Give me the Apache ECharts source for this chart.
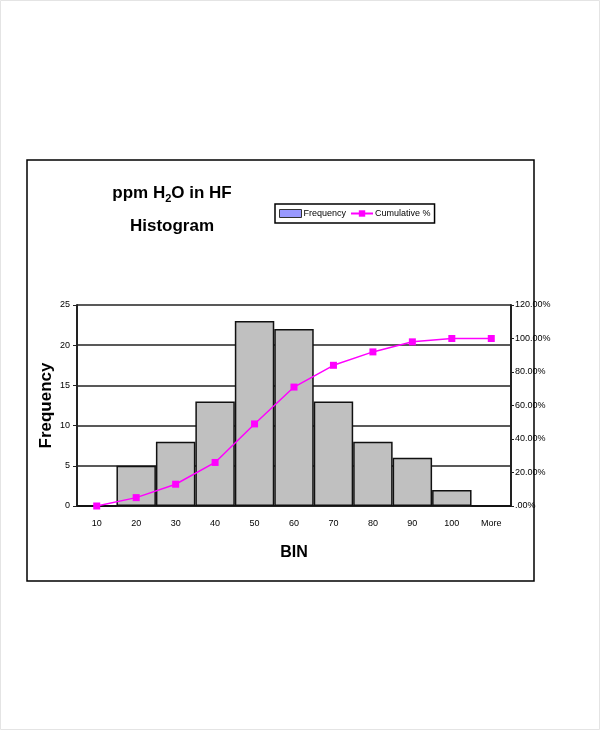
<!DOCTYPE html>
<html>
<head>
<meta charset="utf-8">
<script src="https://cdn.jsdelivr.net/npm/echarts@6/dist/echarts.min.js"></script>
<style>
  html, body { margin: 0; padding: 0; background: #fff; }
  #main { width: 600px; height: 730px; }
</style>
</head>
<body>
<div id="main"></div>
<script>
// bins and values
var bins = ['10', '20', '30', '40', '50', '60', '70', '80', '90', '100', 'More'];
var frequency = [0, 5, 8, 13, 23, 22, 13, 8, 6, 2, 0];
var cumulative = [0, 5, 13, 26, 49, 71, 84, 92, 98, 100, 100];

var font = '"Liberation Sans Narrow", "Liberation Sans", Arial, sans-serif';

var chart = echarts.init(document.getElementById('main'));
var option = {
  backgroundColor: '#fff',
  animation: false,
  textStyle: { fontFamily: font },
  graphic: [
    {
      type: 'rect',
      shape: { x: 0.5, y: 0.5, width: 599, height: 729 },
      style: { fill: 'none', stroke: '#e4e4e4', lineWidth: 1 },
      silent: true
    },
    {
      type: 'rect',
      shape: { x: 27, y: 160, width: 507, height: 421 },
      style: { fill: 'none', stroke: '#000', lineWidth: 1.5 },
      silent: true
    }
  ],
  title: {
    text: '{a|ppm H}{s|2}{a|O in HF}',
    subtext: 'Histogram',
    left: 172,
    top: 182,
    padding: 0,
    itemGap: 14,
    textAlign: 'center',
    textStyle: {
      rich: {
        a: { fontFamily: font, fontSize: 17, fontWeight: 'bold', color: '#000', lineHeight: 22 },
        s: { fontFamily: font, fontSize: 11, fontWeight: 'bold', color: '#000', lineHeight: 12, verticalAlign: 'bottom' }
      }
    },
    subtextStyle: { fontFamily: font, fontSize: 17, fontWeight: 'bold', color: '#000', lineHeight: 22 }
  },
  legend: {
    left: 275,
    top: 204,
    padding: [5, 4, 5, 4],
    itemGap: 4,
    itemWidth: 22,
    itemHeight: 8,
    borderColor: '#000',
    borderWidth: 1.5,
    backgroundColor: '#fff',
    textStyle: { fontFamily: font, fontSize: 9, color: '#000', padding: [0, 0, 0, -3] },
    data: [
      { name: 'Frequency', icon: 'rect', itemStyle: { color: '#9999ff', borderColor: '#333', borderWidth: 1 } },
      { name: 'Cumulative %' }
    ]
  },
  grid: { left: 77, right: 89, top: 305, bottom: 224 },
  xAxis: {
    type: 'category',
    data: bins,
    name: 'BIN',
    nameLocation: 'middle',
    nameGap: 39,
    nameTextStyle: { fontFamily: font, fontSize: 16, fontWeight: 'bold', color: '#000' },
    axisLine: { lineStyle: { color: '#222', width: 2 } },
    axisTick: { length: 4, lineStyle: { color: '#222', width: 1.5 } },
    axisLabel: { fontSize: 9, color: '#000', margin: 13 }
  },
  yAxis: [
    {
      type: 'value',
      min: 0, max: 25, interval: 5,
      name: 'Frequency',
      nameLocation: 'middle',
      nameGap: 22,
      nameMoveOverlap: false,
      nameTextStyle: { fontFamily: font, fontSize: 17, fontWeight: 'bold', color: '#000' },
      axisLine: { show: true, lineStyle: { color: '#222', width: 2 } },
      axisTick: { show: true, length: 4, lineStyle: { color: '#222' } },
      axisLabel: { fontSize: 9, color: '#000', margin: 7 },
      splitLine: { show: true, lineStyle: { color: '#222', width: 1.5 } }
    },
    {
      type: 'value',
      min: 0, max: 120, interval: 20,
      position: 'right',
      axisLine: { show: true, lineStyle: { color: '#222', width: 2 } },
      axisTick: { show: true, length: 3, lineStyle: { color: '#222' } },
      axisLabel: {
        fontSize: 9, color: '#000', margin: 4,
        formatter: function (v) { return v === 0 ? '.00%' : v.toFixed(2) + '%'; }
      },
      splitLine: { show: false }
    }
  ],
  series: [
    {
      name: 'Frequency',
      type: 'bar',
      data: frequency,
      barWidth: '100%',
      barCategoryGap: 0,
      itemStyle: { color: '#c0c0c0', borderColor: '#111', borderWidth: 1.5 }
    },
    {
      name: 'Cumulative %',
      type: 'line',
      yAxisIndex: 1,
      data: cumulative,
      symbol: 'rect',
      symbolSize: 7,
      lineStyle: { color: '#ff00ff', width: 1.5 },
      itemStyle: { color: '#ff00ff' }
    }
  ]
};
chart.setOption(option);
</script>
</body>
</html>
